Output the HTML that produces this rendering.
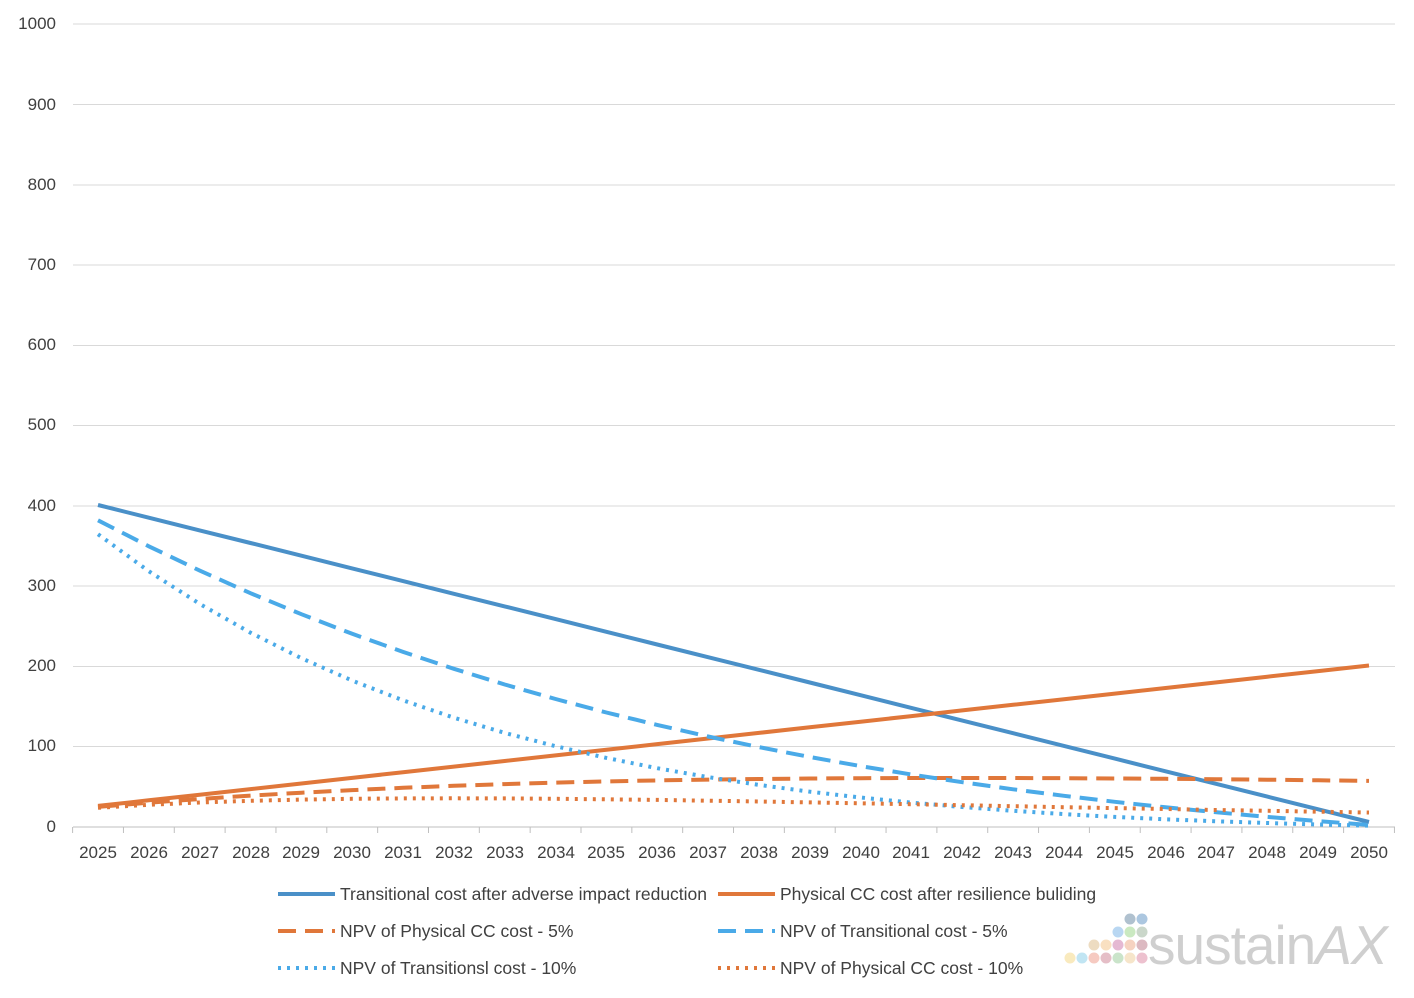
<!DOCTYPE html><html><head><meta charset="utf-8"><style>body{margin:0;background:#fff}svg{display:block;font-family:"Liberation Sans",sans-serif}</style></head><body>
<svg id="s" width="1414" height="998" xmlns="http://www.w3.org/2000/svg">
<g stroke="#d9d9d9" stroke-width="1">
<line x1="73" x2="1395" y1="24" y2="24"/><line x1="73" x2="1395" y1="104.5" y2="104.5"/><line x1="73" x2="1395" y1="185" y2="185"/><line x1="73" x2="1395" y1="265" y2="265"/><line x1="73" x2="1395" y1="345.5" y2="345.5"/><line x1="73" x2="1395" y1="425.5" y2="425.5"/><line x1="73" x2="1395" y1="506" y2="506"/><line x1="73" x2="1395" y1="586" y2="586"/><line x1="73" x2="1395" y1="666.5" y2="666.5"/><line x1="73" x2="1395" y1="746.5" y2="746.5"/>
</g>
<line x1="73" x2="1395" y1="827" y2="827" stroke="#bfbfbf"/>
<g id="ticks" stroke="#bfbfbf"></g>
<g font-size="17" fill="#404040" text-anchor="end">
<text x="56" y="29">1000</text><text x="56" y="110">900</text><text x="56" y="190">800</text><text x="56" y="270">700</text><text x="56" y="350">600</text><text x="56" y="430">500</text><text x="56" y="511">400</text><text x="56" y="591">300</text><text x="56" y="671">200</text><text x="56" y="751">100</text><text x="56" y="832">0</text>
</g>
<g font-size="17" fill="#404040" text-anchor="middle">
<text x="98" y="858">2025</text><text x="149" y="858">2026</text><text x="200" y="858">2027</text><text x="251" y="858">2028</text><text x="301" y="858">2029</text><text x="352" y="858">2030</text><text x="403" y="858">2031</text><text x="454" y="858">2032</text><text x="505" y="858">2033</text><text x="556" y="858">2034</text><text x="606" y="858">2035</text><text x="657" y="858">2036</text><text x="708" y="858">2037</text><text x="759" y="858">2038</text><text x="810" y="858">2039</text><text x="861" y="858">2040</text><text x="911" y="858">2041</text><text x="962" y="858">2042</text><text x="1013" y="858">2043</text><text x="1064" y="858">2044</text><text x="1115" y="858">2045</text><text x="1166" y="858">2046</text><text x="1216" y="858">2047</text><text x="1267" y="858">2048</text><text x="1318" y="858">2049</text><text x="1369" y="858">2050</text>
</g>
<g id="lines" fill="none" stroke-width="4"></g>
<g font-size="17.5" fill="#404040">
<line x1="278" x2="335" y1="894" y2="894" stroke="#4a90c8" stroke-width="4"/><text x="340" y="900">Transitional cost after adverse impact reduction</text>
<line x1="718" x2="775" y1="894" y2="894" stroke="#e0773a" stroke-width="4"/><text x="780" y="900">Physical CC cost after resilience buliding</text>
<line x1="278" x2="335" y1="931" y2="931" stroke="#e0773a" stroke-width="4" stroke-dasharray="18 9"/><text x="340" y="937">NPV of Physical CC cost - 5%</text>
<line x1="718" x2="775" y1="931" y2="931" stroke="#4aaae8" stroke-width="4" stroke-dasharray="18 9"/><text x="780" y="937">NPV of Transitional cost - 5%</text>
<line x1="278" x2="335" y1="968" y2="968" stroke="#4aaae8" stroke-width="4" stroke-dasharray="3 6"/><text x="340" y="974">NPV of Transitionsl cost - 10%</text>
<line x1="718" x2="775" y1="968" y2="968" stroke="#e0773a" stroke-width="4" stroke-dasharray="3 6"/><text x="780" y="974">NPV of Physical CC cost - 10%</text>
</g>
<g opacity="0.55">
<circle cx="1070" cy="958" r="5.5" fill="#f5d98a"/><circle cx="1082" cy="958" r="5.5" fill="#8fd0ea"/><circle cx="1094" cy="958" r="5.5" fill="#f0a090"/><circle cx="1106" cy="958" r="5.5" fill="#d08a9a"/><circle cx="1118" cy="958" r="5.5" fill="#a0cfa0"/><circle cx="1130" cy="958" r="5.5" fill="#f0d0a0"/><circle cx="1142" cy="958" r="5.5" fill="#e090a8"/>
<circle cx="1094" cy="945" r="5.5" fill="#e0c090"/><circle cx="1106" cy="945" r="5.5" fill="#f5c890"/><circle cx="1118" cy="945" r="5.5" fill="#d080b0"/><circle cx="1130" cy="945" r="5.5" fill="#f0b090"/><circle cx="1142" cy="945" r="5.5" fill="#c08090"/>
<circle cx="1118" cy="932" r="5.5" fill="#80b8e8"/><circle cx="1130" cy="932" r="5.5" fill="#a0d890"/><circle cx="1142" cy="932" r="5.5" fill="#a0b8a0"/>
<circle cx="1130" cy="919" r="5.5" fill="#7090a8"/><circle cx="1142" cy="919" r="5.5" fill="#6a9ac8"/>
</g>
<text x="1148" y="964" font-size="55" fill="#cfcfcf" font-family="Liberation Sans,sans-serif" letter-spacing="-1">sustain<tspan font-style="italic">AX</tspan></text>
</svg>
<script>
var X=i=>98+50.84*i, Y=v=>826-v*0.8025;
var t=document.getElementById('ticks'),h='';
for(var k=0;k<=26;k++){var x=72.6+50.84*k;h+='<line x1="'+x+'" x2="'+x+'" y1="827" y2="833"/>';}
t.innerHTML=h;
function pts(f){var a=[];for(var i=0;i<26;i++)a.push(X(i).toFixed(1)+','+Y(f(i)).toFixed(1));return a.join(' ');}
var tr=i=>400-395*i/25, ph=i=>25+175*i/25;
var L=[[tr,'#4a90c8',''],[ph,'#e0773a',''],
[i=>ph(i)/Math.pow(1.05,i+1),'#e0773a','18 9'],
[i=>tr(i)/Math.pow(1.05,i+1),'#4aaae8','18 9'],
[i=>tr(i)/Math.pow(1.1,i+1),'#4aaae8','3 6'],
[i=>ph(i)/Math.pow(1.1,i+1),'#e0773a','3 6']];
var s='';L.forEach(l=>{s+='<polyline points="'+pts(l[0])+'" stroke="'+l[1]+'"'+(l[2]?' stroke-dasharray="'+l[2]+'"':'')+'/>';});
document.getElementById('lines').innerHTML=s;
</script>
</body></html>
